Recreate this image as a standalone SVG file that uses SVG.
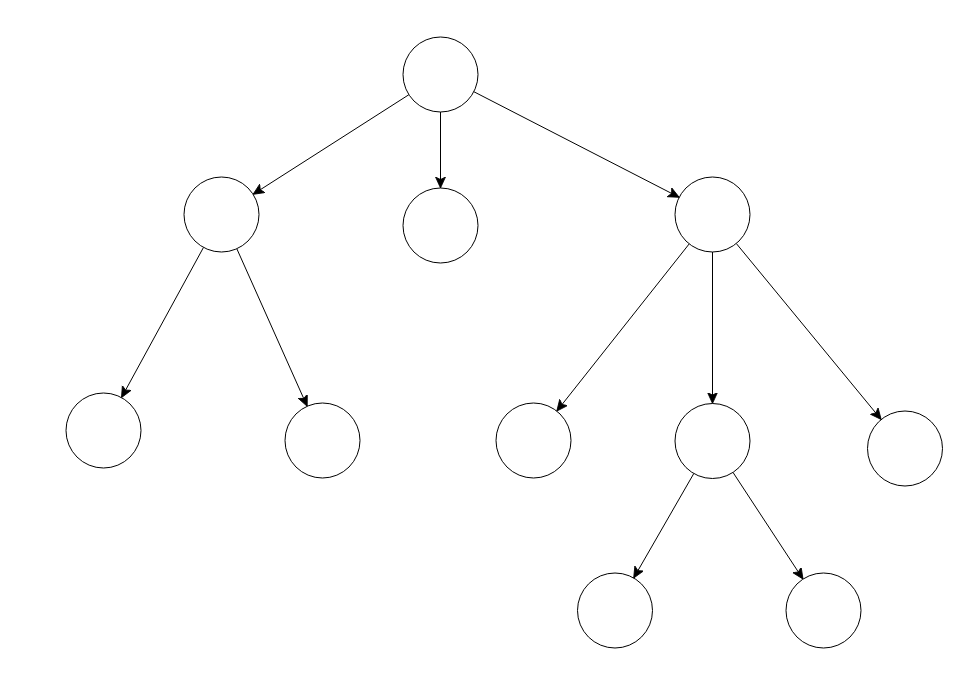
<svg xmlns="http://www.w3.org/2000/svg" width="954" height="692" viewBox="0 0 954 692">
<style>
.node{fill:#fff;stroke:#000;stroke-width:1}
.edge{fill:none;stroke:#000;stroke-width:1}
</style>
<defs>
<marker id="arr" markerUnits="userSpaceOnUse" markerWidth="14" markerHeight="12" refX="11" refY="5" orient="auto" viewBox="0 0 14 12">
<path d="M0,0 L11,5 L0,10 L2.5,5 Z" fill="#000" stroke="#000" stroke-width="0.8" stroke-linejoin="miter"/>
</marker>
</defs>
<rect width="954" height="692" fill="#fff"/>
<g id="connectors">
<line class="edge" x1="408.9" y1="94.7" x2="253.1" y2="194.3" marker-end="url(#arr)"/>
<line class="edge" x1="440.5" y1="112" x2="440.5" y2="188" marker-end="url(#arr)"/>
<line class="edge" x1="473.8" y1="91.7" x2="679.2" y2="197.3" marker-end="url(#arr)"/>
<line class="edge" x1="203.5" y1="247.4" x2="121.5" y2="397.6" marker-end="url(#arr)"/>
<line class="edge" x1="236.8" y1="248.7" x2="307.2" y2="406.3" marker-end="url(#arr)"/>
<line class="edge" x1="689.2" y1="243.9" x2="556.8" y2="411.1" marker-end="url(#arr)"/>
<line class="edge" x1="712.5" y1="252" x2="712.5" y2="403.5" marker-end="url(#arr)"/>
<line class="edge" x1="736.3" y1="243.5" x2="881.2" y2="419.5" marker-end="url(#arr)"/>
<line class="edge" x1="693.8" y1="473.5" x2="633.7" y2="578" marker-end="url(#arr)"/>
<line class="edge" x1="733" y1="472.4" x2="803" y2="579.1" marker-end="url(#arr)"/>
</g>
<g id="root"><circle class="node" cx="440.5" cy="74.5" r="37.5"/></g>
<g id="a"><circle class="node" cx="221.5" cy="214.5" r="37.5"/></g>
<g id="b"><circle class="node" cx="440.5" cy="225.5" r="37.5"/></g>
<g id="c"><circle class="node" cx="712.5" cy="214.5" r="37.5"/></g>
<g id="a1"><circle class="node" cx="103.5" cy="430.5" r="37.5"/></g>
<g id="a2"><circle class="node" cx="322.5" cy="440.5" r="37.5"/></g>
<g id="c1"><circle class="node" cx="533.5" cy="440.5" r="37.5"/></g>
<g id="c2"><circle class="node" cx="712.5" cy="441" r="37.5"/></g>
<g id="c3"><circle class="node" cx="905" cy="448.5" r="37.5"/></g>
<g id="c21"><circle class="node" cx="615" cy="610.5" r="37.5"/></g>
<g id="c22"><circle class="node" cx="823.5" cy="610.5" r="37.5"/></g>
</svg>
